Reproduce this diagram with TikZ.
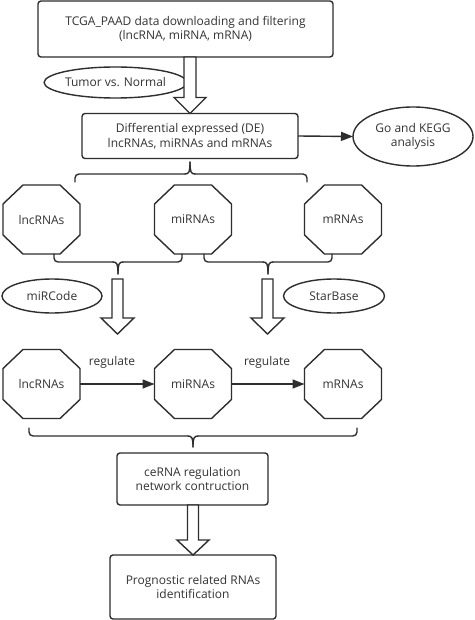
\documentclass[tikz,border=0pt]{standalone}
\usepackage{fontspec}
\setmainfont{Open Sans}
\usetikzlibrary{arrows.meta,shapes.geometric,calc}
\definecolor{ink}{HTML}{2E2E2E}
\definecolor{txt}{HTML}{333333}
\tikzset{
  line/.style={draw=ink,line width=1.4pt},
  box/.style={line,rectangle,rounded corners=3pt,align=center,text=txt,font=\fontsize{12}{14.5}\selectfont,inner sep=0pt,outer sep=0pt},
  ell/.style={line,ellipse,align=center,text=txt,font=\fontsize{12}{14.5}\selectfont,inner sep=0pt,outer sep=0pt},
  octnode/.style={rectangle,draw=none,minimum width=77pt,minimum height=69pt,text=txt,font=\fontsize{12}{14}\selectfont,inner sep=0pt,outer sep=0pt},
  lbl/.style={text=txt,font=\fontsize{12}{14}\selectfont,inner sep=0pt},
  arr/.style={line,-{Triangle[length=12pt,width=9pt]}},
  brace/.style={line,line cap=round}
}
\newcommand\octodraw[1]{\draw[line,line join=round] ([xshift=20pt]#1.north west) -- ([xshift=-20pt]#1.north east) -- ([yshift=-19pt]#1.north east) -- ([yshift=19pt]#1.south east) -- ([xshift=-20pt]#1.south east) -- ([xshift=20pt]#1.south west) -- ([yshift=19pt]#1.south west) -- ([yshift=-19pt]#1.north west) -- cycle;}
% hollow arrow: #1 start, #2 tip, #3 shaft half width, #4 head half width, #5 head length
\newcommand\harrow[5]{\draw[line,line join=miter,fill=white] let \p1=(#1), \p2=(#2) in (\x2-#3,\y1) -- (\x2-#3,\y2+#5) -- (\x2-#4,\y2+#5) -- (\x2,\y2) -- (\x2+#4,\y2+#5) -- (\x2+#3,\y2+#5) -- (\x2+#3,\y1) -- cycle;}
\begin{document}
\begin{tikzpicture}[x=1pt,y=-1pt]
\useasboundingbox[fill=white] (0,0) rectangle (474,620);
% boxes
\node[box,minimum width=295pt,minimum height=56pt] (b1) at (185.5,29) {TCGA\_PAAD data downloading and filtering\\(lncRNA, miRNA, mRNA)};
\node[box,minimum width=216pt,minimum height=45pt] (b2) at (190,136) {Differential expressed (DE)\\lncRNAs, miRNAs and mRNAs};
\node[ell,minimum width=125pt,minimum height=31pt] (tv) at (115.5,82.5) {Tumor vs. Normal};
\node[ell,minimum width=120pt,minimum height=59pt] (go) at (413,136.5) {Go and KEGG\\analysis};
% row 1 octagons
\node[octnode] (l1) at (41.5,219.5) {lncRNAs};
\node[octnode] (m1) at (193,219.5) {miRNAs};
\node[octnode] (r1) at (343,219.5) {mRNAs};
\octodraw{l1}\octodraw{m1}\octodraw{r1}
% ellipses
\node[ell,minimum width=100pt,minimum height=34pt] (mc) at (52,296) {miRCode};
\node[ell,minimum width=101pt,minimum height=34pt] (sb) at (334,296) {StarBase};
% row 2 octagons
\node[octnode] (l2) at (41.5,384) {lncRNAs};
\node[octnode] (m2) at (193,384) {miRNAs};
\node[octnode] (r2) at (343,384) {mRNAs};
\octodraw{l2}\octodraw{m2}\octodraw{r2}
\node[lbl] (reg1) at (112,362) {regulate};
\node[lbl] (reg2) at (267,362) {regulate};
% bottom boxes
\node[box,minimum width=151pt,minimum height=52pt] (b3) at (192.5,479) {ceRNA regulation\\network contruction};
\node[box,minimum width=166pt,minimum height=64pt] (b4) at (193,587) {Prognostic related RNAs\\identification};
% coordinates
\coordinate (br1) at (190,162);
\coordinate (br2) at (118,274);
\coordinate (br3) at (268,274);
\coordinate (br4) at (193,447);
\coordinate (a2s) at (117.5,279);
\coordinate (a2t) at (117.5,334);
\coordinate (a3s) at (267.5,279);
\coordinate (a3t) at (267.5,334);
% connectors
\draw[arr] (b2.east) -- (go.west);
\draw[arr] (l2.east) -- (m2.west);
\draw[arr] (m2.east) -- (r2.west);
% hollow arrows
\harrow{b1.south}{b2.north}{6pt}{16pt}{16pt}
\harrow{a2s}{a2t}{5.5pt}{16.5pt}{16pt}
\harrow{a3s}{a3t}{5.5pt}{16.5pt}{16pt}
\harrow{b3.south}{b4.north}{5.5pt}{16pt}{15pt}
% braces
\draw[brace,rounded corners=4pt] (75,182) -- (75,174) -- (185,174);
\draw[brace] (185,174) .. controls (189,174) and (190,172) .. (br1);
\draw[brace] (br1) .. controls (190,172) and (191,174) .. (195,174);
\draw[brace,rounded corners=4pt] (195,174) -- (307,174) -- (307,182);
% brace 2
\draw[brace,rounded corners=4pt] (l1.south -| 54,0) -- (54,262) -- (113,262);
\draw[brace] (113,262) .. controls (117,262) and (118,264) .. (br2);
\draw[brace] (br2) .. controls (118,264) and (119,262) .. (123,262);
\draw[brace,rounded corners=4pt] (123,262) -- (182,262) -- (m1.south -| 182,0);
% brace 3
\draw[brace,rounded corners=4pt] (m1.south -| 204,0) -- (204,262) -- (263,262);
\draw[brace] (263,262) .. controls (267,262) and (268,264) .. (br3);
\draw[brace] (br3) .. controls (268,264) and (269,262) .. (273,262);
\draw[brace,rounded corners=4pt] (273,262) -- (332,262) -- (r1.south -| 332,0);
% brace 4
\draw[brace,rounded corners=4pt] (29,428) -- (29,436) -- (188,436);
\draw[brace] (188,436) .. controls (192,436) and (193,438) .. (br4);
\draw[brace] (br4) .. controls (193,438) and (194,436) .. (198,436);
\draw[brace,rounded corners=4pt] (198,436) -- (357,436) -- (357,428);
\end{tikzpicture}
\end{document}
